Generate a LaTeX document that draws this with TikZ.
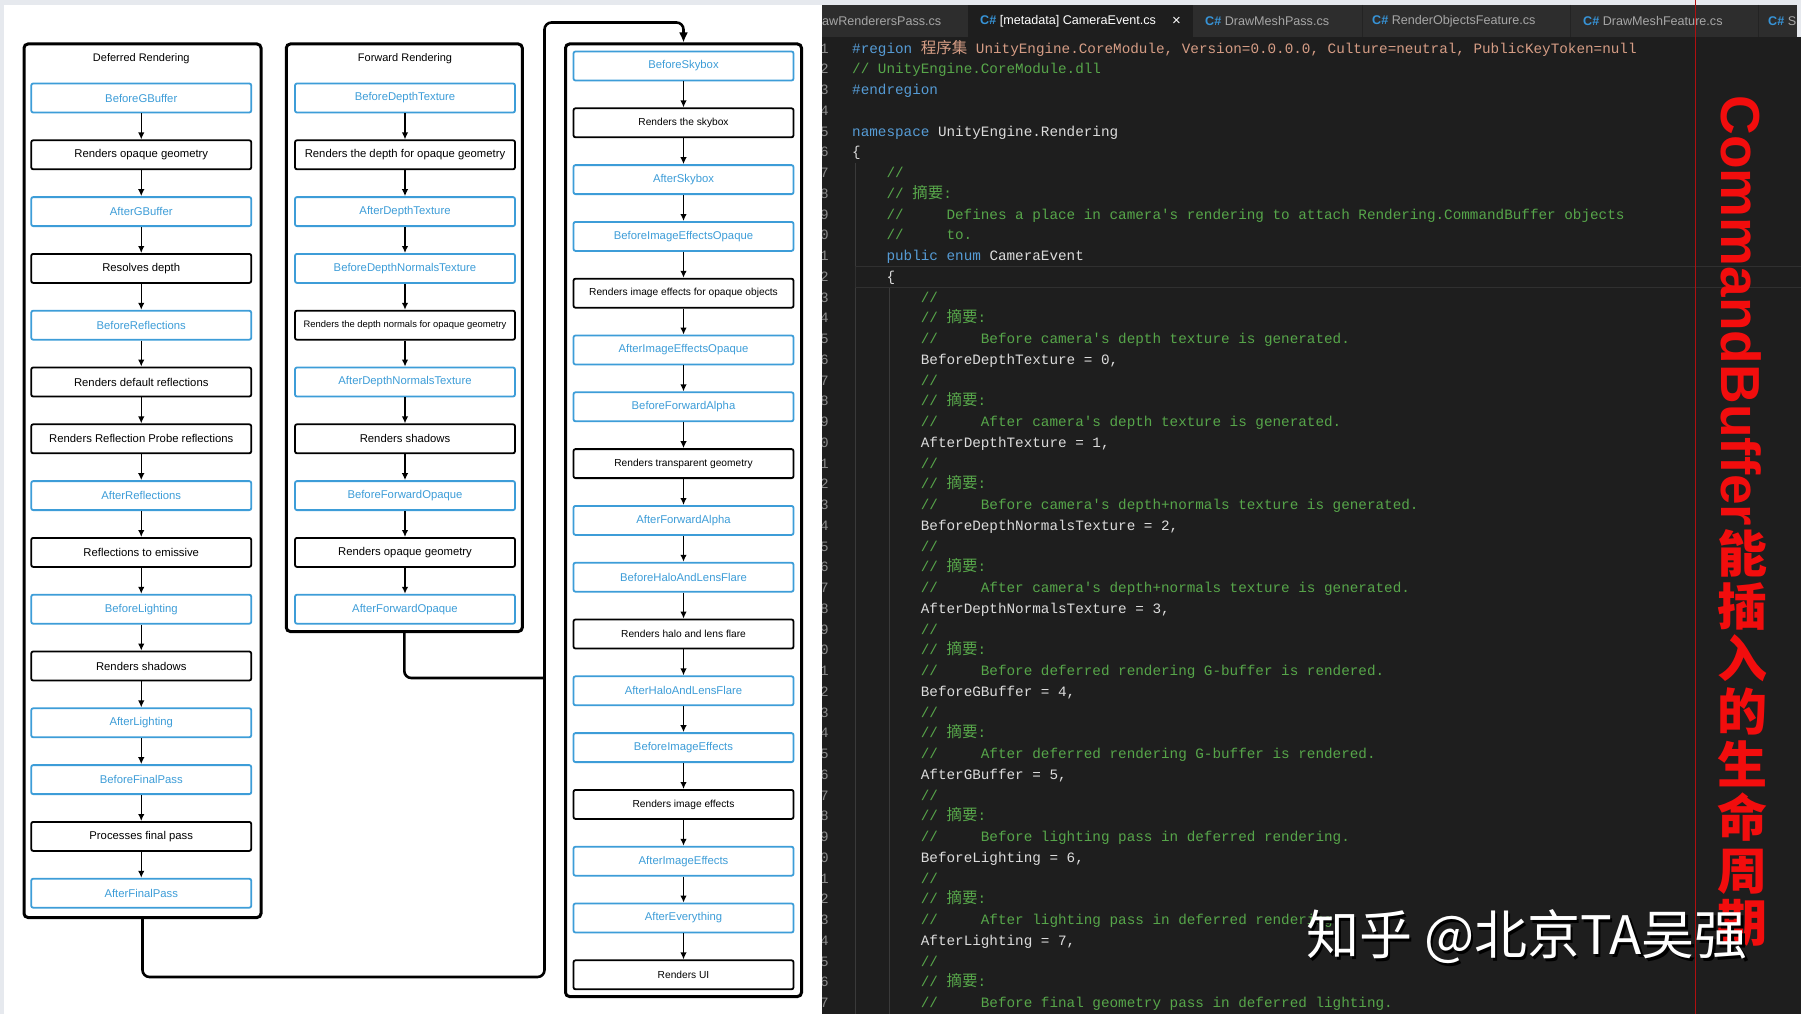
\documentclass[tikz,border=0pt]{standalone}
\usepackage{fontspec}
\setmainfont{Liberation Sans}
\setmonofont{Liberation Mono}
\newfontfamily\cjkfont{Noto Sans CJK SC}
\usepackage{xcolor}
\usepackage{tikz}
\usetikzlibrary{arrows.meta,positioning}

\definecolor{evtblue}{HTML}{3D9DD8}
\definecolor{pagegray}{HTML}{E6E9EE}
\definecolor{editorbg}{HTML}{1E1E1E}
\definecolor{tabbar}{HTML}{2D2D2D}
\definecolor{tabline}{HTML}{232323}
\definecolor{tabtext}{HTML}{A6A6A6}
\definecolor{csblue}{HTML}{3794D8}
\definecolor{kwblue}{HTML}{569CD6}
\definecolor{cmtgreen}{HTML}{57A64A}
\definecolor{strtan}{HTML}{D69D85}
\definecolor{codewhite}{HTML}{DCDCDC}
\definecolor{lnumgray}{HTML}{8A8A8A}
\definecolor{guidegray}{HTML}{3A3A3A}
\definecolor{hlgray}{HTML}{303030}
\definecolor{markred}{HTML}{F20D0D}
\definecolor{rulered}{HTML}{B01010}

% code editor helpers
\newcommand\codeind{\hspace*{34.32pt}}
\newcommand\memind{\hspace*{68.64pt}}
\newcommand\codegap{\hspace*{42.9pt}}
\newcommand\cmt[1]{\textcolor{cmtgreen}{#1}}
\newcommand\kw[1]{\textcolor{kwblue}{#1}}
\newcommand\zhaiyao{\cmt{// {\cjkfont\fontsize{15.5}{20.75}\selectfont 摘要}:}}

\begin{document}
\begin{tikzpicture}[
    x=1pt, y=-1pt,
    evt/.style={draw=evtblue, fill=white, text=evtblue, line width=1.8pt, rounded corners=2pt, minimum width=220pt, minimum height=29pt, inner sep=0pt, font=\fontsize{11.3}{13.5}\selectfont},
    task/.style={draw=black, fill=white, text=black, line width=1.8pt, rounded corners=2pt, minimum width=220pt, minimum height=29pt, inner sep=0pt, font=\fontsize{11.3}{13.5}\selectfont},
    tasksmall/.style={task, font=\fontsize{10.2}{12}\selectfont},
    panel/.style={draw=black, line width=3pt, rounded corners=4pt, inner sep=0pt},
    heading/.style={font=\fontsize{11}{13}\selectfont, inner sep=0pt},
    arrow/.style={-{Latex[length=7pt, width=6.5pt]}, line width=1.5pt},
    link/.style={line width=2.6pt, rounded corners=7pt},
    tablabel/.style={anchor=west, inner sep=0pt, text=tabtext, font=\fontsize{12.6}{14}\selectfont},
    codetext/.style={anchor=north west, inner sep=0pt, align=left, text=codewhite, font=\ttfamily\fontsize{14.3}{20.75}\selectfont},
    redtext/.style={text=markred, inner sep=0pt},
    wmark/.style={text=white, inner sep=0pt, font={\cjkfont\fontsize{53}{56}\selectfont}}
]
\useasboundingbox (0,0) rectangle (1801,1014);

% page and editor background
\fill[white] (0,0) rectangle (1801,1014);
\fill[pagegray] (0,0) rectangle (1801,5);
\fill[pagegray] (0,0) rectangle (4,1014);
\fill[editorbg] (822,5) rectangle (1801,1014);
\fill[tabbar] (822,5) rectangle (1801,37);
\fill[editorbg] (968,5) rectangle (1193,37);
\draw[tabline, line width=1pt] (1362,5) -- (1362,37);
\draw[tabline, line width=1pt] (1570,5) -- (1570,37);
\draw[tabline, line width=1pt] (1758,5) -- (1758,37);

% panels
\node[panel, minimum width=237pt, minimum height=873.5pt] (deferredpanel) at (142.5,480.75) {};
\node[panel, minimum width=236pt, minimum height=587.5pt] (forwardpanel) at (404.3,337.75) {};
\node[panel, minimum width=236pt, minimum height=952.5pt] (rightpanel) at (683.5,520.25) {};

\node[heading] (deferredhead) at (141.25,59) {Deferred Rendering};
\node[heading] (forwardhead) at (405,59) {Forward Rendering};

% deferred rendering
\node[evt] (bgbuffer) at (141.25,98) {BeforeGBuffer};
\node[task] (dopaque) at (141.25,154.8) {Renders opaque geometry};
\node[evt] (agbuffer) at (141.25,211.6) {AfterGBuffer};
\node[task] (resolve) at (141.25,268.4) {Resolves depth};
\node[evt] (brefl) at (141.25,325.2) {BeforeReflections};
\node[task] (defrefl) at (141.25,382) {Renders default reflections};
\node[task] (proberefl) at (141.25,438.8) {Renders Reflection Probe reflections};
\node[evt] (arefl) at (141.25,495.6) {AfterReflections};
\node[task] (emissive) at (141.25,552.4) {Reflections to emissive};
\node[evt] (blighting) at (141.25,609.2) {BeforeLighting};
\node[task] (dshadows) at (141.25,666) {Renders shadows};
\node[evt] (alighting) at (141.25,722.8) {AfterLighting};
\node[evt] (bfinal) at (141.25,779.6) {BeforeFinalPass};
\node[task] (finalpass) at (141.25,836.4) {Processes final pass};
\node[evt] (afinal) at (141.25,893.2) {AfterFinalPass};

% forward rendering
\node[evt] (bdepth) at (405,98) {BeforeDepthTexture};
\node[task] (depthpass) at (405,154.8) {Renders the depth for opaque geometry};
\node[evt] (adepth) at (405,211.6) {AfterDepthTexture};
\node[evt] (bnormals) at (405,268.4) {BeforeDepthNormalsTexture};
\node[task, font=\fontsize{9.4}{11}\selectfont] (normalspass) at (405,325.2) {Renders the depth normals for opaque geometry};
\node[evt] (anormals) at (405,382) {AfterDepthNormalsTexture};
\node[task] (fshadows) at (405,438.8) {Renders shadows};
\node[evt] (bfwdopaque) at (405,495.6) {BeforeForwardOpaque};
\node[task] (fopaque) at (405,552.4) {Renders opaque geometry};
\node[evt] (afwdopaque) at (405,609.2) {AfterForwardOpaque};

% shared tail
\node[evt] (bskybox) at (683.5,66) {BeforeSkybox};
\node[tasksmall] (skybox) at (683.5,122.8) {Renders the skybox};
\node[evt] (askybox) at (683.5,179.6) {AfterSkybox};
\node[evt] (bieopaque) at (683.5,236.4) {BeforeImageEffectsOpaque};
\node[tasksmall] (ieopaque) at (683.5,293.2) {Renders image effects for opaque objects};
\node[evt] (aieopaque) at (683.5,350) {AfterImageEffectsOpaque};
\node[evt] (bfwdalpha) at (683.5,406.8) {BeforeForwardAlpha};
\node[tasksmall] (transparent) at (683.5,463.6) {Renders transparent geometry};
\node[evt] (afwdalpha) at (683.5,520.4) {AfterForwardAlpha};
\node[evt] (bhalo) at (683.5,577.2) {BeforeHaloAndLensFlare};
\node[tasksmall] (halo) at (683.5,634) {Renders halo and lens flare};
\node[evt] (ahalo) at (683.5,690.8) {AfterHaloAndLensFlare};
\node[evt] (bimgfx) at (683.5,747.6) {BeforeImageEffects};
\node[tasksmall] (imgfx) at (683.5,804.4) {Renders image effects};
\node[evt] (aimgfx) at (683.5,861.2) {AfterImageEffects};
\node[evt] (aeverything) at (683.5,918) {AfterEverything};
\node[tasksmall] (renderui) at (683.5,974.8) {Renders UI};

\draw[arrow] (bgbuffer) -- (dopaque);
\draw[arrow] (dopaque) -- (agbuffer);
\draw[arrow] (agbuffer) -- (resolve);
\draw[arrow] (resolve) -- (brefl);
\draw[arrow] (brefl) -- (defrefl);
\draw[arrow] (defrefl) -- (proberefl);
\draw[arrow] (proberefl) -- (arefl);
\draw[arrow] (arefl) -- (emissive);
\draw[arrow] (emissive) -- (blighting);
\draw[arrow] (blighting) -- (dshadows);
\draw[arrow] (dshadows) -- (alighting);
\draw[arrow] (alighting) -- (bfinal);
\draw[arrow] (bfinal) -- (finalpass);
\draw[arrow] (finalpass) -- (afinal);

\draw[arrow] (bdepth) -- (depthpass);
\draw[arrow] (depthpass) -- (adepth);
\draw[arrow] (adepth) -- (bnormals);
\draw[arrow] (bnormals) -- (normalspass);
\draw[arrow] (normalspass) -- (anormals);
\draw[arrow] (anormals) -- (fshadows);
\draw[arrow] (fshadows) -- (bfwdopaque);
\draw[arrow] (bfwdopaque) -- (fopaque);
\draw[arrow] (fopaque) -- (afwdopaque);

\draw[arrow] (bskybox) -- (skybox);
\draw[arrow] (skybox) -- (askybox);
\draw[arrow] (askybox) -- (bieopaque);
\draw[arrow] (bieopaque) -- (ieopaque);
\draw[arrow] (ieopaque) -- (aieopaque);
\draw[arrow] (aieopaque) -- (bfwdalpha);
\draw[arrow] (bfwdalpha) -- (transparent);
\draw[arrow] (transparent) -- (afwdalpha);
\draw[arrow] (afwdalpha) -- (bhalo);
\draw[arrow] (bhalo) -- (halo);
\draw[arrow] (halo) -- (ahalo);
\draw[arrow] (ahalo) -- (bimgfx);
\draw[arrow] (bimgfx) -- (imgfx);
\draw[arrow] (imgfx) -- (aimgfx);
\draw[arrow] (aimgfx) -- (aeverything);
\draw[arrow] (aeverything) -- (renderui);

% both paths feed the shared tail
\coordinate (busjoin) at (544.5,678);
\coordinate (busbottom) at (544.5,977);
\coordinate (bustop) at (544.5,22.5);
\draw[link, -{Latex[length=10pt, width=9pt]}] (deferredpanel.south) |- (busbottom) -- (bustop) -| (rightpanel.north);
\draw[link] (forwardpanel.south) |- (busjoin);

% tabs
\node[tablabel] (tabrenderers) at (822,21) {awRenderersPass.cs};
\node[tablabel, text=white] (tabcamera) at (980,21) {\textcolor{csblue}{\bfseries C\#} [metadata] CameraEvent.cs};
\node[tablabel, text=white, font=\fontsize{15}{16}\selectfont] (tabclose) at (1172,21) {×};
\node[tablabel] (tabmeshpass) at (1205,21) {\textcolor{csblue}{\bfseries C\#} DrawMeshPass.cs};
\node[tablabel] (tabobjects) at (1372,21) {\textcolor{csblue}{\bfseries C\#} RenderObjectsFeature.cs};
\node[tablabel] (tabfeature) at (1583,21) {\textcolor{csblue}{\bfseries C\#} DrawMeshFeature.cs};
\node[tablabel] (tabmore) at (1768,21) {\textcolor{csblue}{\bfseries C\#} S};
\fill[pagegray] (1797,5) rectangle (1801,37);

% indent guides and current line
\draw[guidegray, line width=1pt] (855,163) -- (855,1014);
\draw[guidegray, line width=1pt] (889,288) -- (889,1014);
\draw[hlgray, line width=1pt] (855,266) rectangle (1801,287.5);

% gutter
\begin{scope}
\clip (822,37) rectangle (840,1014);
\node[codetext, anchor=north east, align=right, text=lnumgray] (gutter) at (829,38) {\rule{0pt}{15pt}1\\2\\3\\4\\5\\6\\7\\8\\9\\10\\11\\12\\13\\14\\15\\16\\17\\18\\19\\20\\21\\22\\23\\24\\25\\26\\27\\28\\29\\30\\31\\32\\33\\34\\35\\36\\37\\38\\39\\40\\41\\42\\43\\44\\45\\46\\47};
\end{scope}

% source text
\node[codetext] (source) at (852,38) {\rule{0pt}{15pt}\kw{\#region} \textcolor{strtan}{{\cjkfont\fontsize{15.5}{20.75}\selectfont 程序集} UnityEngine.CoreModule, Version=0.0.0.0, Culture=neutral, PublicKeyToken=null}\\
\cmt{// UnityEngine.CoreModule.dll}\\
\kw{\#endregion}\\
\mbox{}\\
\kw{namespace} UnityEngine.Rendering\\
\{\\
\codeind\cmt{//}\\
\codeind\zhaiyao\\
\codeind\cmt{//\codegap Defines a place in camera's rendering to attach Rendering.CommandBuffer objects}\\
\codeind\cmt{//\codegap to.}\\
\codeind\kw{public enum} CameraEvent\\
\codeind\{\\
\memind\cmt{//}\\
\memind\zhaiyao\\
\memind\cmt{//\codegap Before camera's depth texture is generated.}\\
\memind BeforeDepthTexture = 0,\\
\memind\cmt{//}\\
\memind\zhaiyao\\
\memind\cmt{//\codegap After camera's depth texture is generated.}\\
\memind AfterDepthTexture = 1,\\
\memind\cmt{//}\\
\memind\zhaiyao\\
\memind\cmt{//\codegap Before camera's depth+normals texture is generated.}\\
\memind BeforeDepthNormalsTexture = 2,\\
\memind\cmt{//}\\
\memind\zhaiyao\\
\memind\cmt{//\codegap After camera's depth+normals texture is generated.}\\
\memind AfterDepthNormalsTexture = 3,\\
\memind\cmt{//}\\
\memind\zhaiyao\\
\memind\cmt{//\codegap Before deferred rendering G-buffer is rendered.}\\
\memind BeforeGBuffer = 4,\\
\memind\cmt{//}\\
\memind\zhaiyao\\
\memind\cmt{//\codegap After deferred rendering G-buffer is rendered.}\\
\memind AfterGBuffer = 5,\\
\memind\cmt{//}\\
\memind\zhaiyao\\
\memind\cmt{//\codegap Before lighting pass in deferred rendering.}\\
\memind BeforeLighting = 6,\\
\memind\cmt{//}\\
\memind\zhaiyao\\
\memind\cmt{//\codegap After lighting pass in deferred rendering.}\\
\memind AfterLighting = 7,\\
\memind\cmt{//}\\
\memind\zhaiyao\\
\memind\cmt{//\codegap Before final geometry pass in deferred lighting.}};

% red margin and title
\draw[rulered, line width=1pt] (1695,0) -- (1695,1014);
\node[redtext, rotate=-90, font={\bfseries\fontsize{55}{58}\selectfont}] (cbword) at (1741,311) {CommandBuffer};
\node[redtext, align=center, font={\cjkfont\bfseries\fontsize{50}{52.8}\selectfont}] (lifecycle) at (1742,738) {能\\插\\入\\的\\生\\命\\周\\期};

% watermark
\node[wmark, text=black] (wmshadow) at (1529.5,939.5) {知乎 @北京TA吴强};
\node[wmark] (watermark) at (1527,937) {知乎 @北京TA吴强};
\end{tikzpicture}
\end{document}
